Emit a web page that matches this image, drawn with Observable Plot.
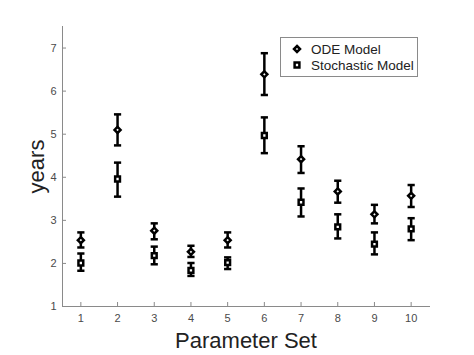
<!DOCTYPE html>
<html>
<head>
<meta charset="utf-8">
<script src="https://cdn.jsdelivr.net/npm/d3@7"></script>
<script src="https://cdn.jsdelivr.net/npm/@observablehq/plot@0.6"></script>
<style>
  html, body { margin: 0; padding: 0; background: #fff; }
  #chart { position: relative; width: 474px; height: 355px; }
</style>
</head>
<body>
<div id="chart"></div>
<script>
const sets = [1, 2, 3, 4, 5, 6, 7, 8, 9, 10];
const odeMean   = [2.54, 5.10, 2.76, 2.27, 2.54, 6.39, 4.42, 3.67, 3.14, 3.57];
const odeLow    = [2.37, 4.74, 2.56, 2.15, 2.37, 5.91, 4.10, 3.41, 2.93, 3.31];
const odeHigh   = [2.72, 5.46, 2.93, 2.41, 2.72, 6.88, 4.72, 3.92, 3.36, 3.82];
const stochMean = [2.01, 3.96, 2.18, 1.84, 2.02, 4.97, 3.42, 2.85, 2.45, 2.80];
const stochLow  = [1.83, 3.55, 1.98, 1.71, 1.87, 4.56, 3.09, 2.58, 2.21, 2.54];
const stochHigh = [2.23, 4.34, 2.39, 2.01, 2.14, 5.39, 3.74, 3.14, 2.72, 3.05];
const yTicks = [1, 2, 3, 4, 5, 6, 7];
const seriesNames = ["ODE Model", "Stochastic Model"];
const xLabel = "Parameter Set";
const yLabel = "years";

const rows = [];
sets.forEach((s, i) => {
  rows.push({set: s, series: seriesNames[0], mean: odeMean[i], low: odeLow[i], high: odeHigh[i]});
  rows.push({set: s, series: seriesNames[1], mean: stochMean[i], low: stochLow[i], high: stochHigh[i]});
});

const cap = {draw(ctx, size) { const w = Math.sqrt(size / Math.PI); ctx.moveTo(-w, 0); ctx.lineTo(w, 0); }};
const symbolOf = {[seriesNames[0]]: "diamond2", [seriesNames[1]]: "square"};

const font = "'Liberation Sans', Arial, Helvetica, sans-serif";

const plot = Plot.plot({
  width: 474,
  height: 355,
  marginLeft: 62,
  marginRight: 45,
  marginTop: 26,
  marginBottom: 49,
  style: {fontFamily: font, background: "white", overflow: "visible"},
  x: {domain: [0.5, 10.5]},
  y: {domain: [1, 7.5]},
  marks: [
    Plot.frame({anchor: "left", stroke: "#8a8a8a"}),
    Plot.frame({anchor: "bottom", stroke: "#8a8a8a"}),
    Plot.axisX({ticks: sets, tickFormat: d => String(d), tickSize: -4, tickPadding: 12, fontSize: 11, color: "#4a4a4a", stroke: "#8a8a8a", label: null}),
    Plot.axisY({ticks: yTicks, tickFormat: d => String(d), tickSize: -4, tickPadding: 10, fontSize: 11, color: "#4a4a4a", stroke: "#8a8a8a", label: null}),
    Plot.ruleX(rows, {x: "set", y1: "low", y2: "high", stroke: "black", strokeWidth: 2.5}),
    Plot.dot(rows, {x: "set", y: "low", symbol: cap, r: 3.6, stroke: "black", strokeWidth: 2.5}),
    Plot.dot(rows, {x: "set", y: "high", symbol: cap, r: 3.6, stroke: "black", strokeWidth: 2.5}),
    Plot.dot(rows, {x: "set", y: "mean", symbol: d => symbolOf[d.series], r: 2.7, fill: "white", stroke: "black", strokeWidth: 2.5}),
    Plot.text([xLabel], {frameAnchor: "bottom", dy: 34, fontSize: 22, fill: "#222", lineAnchor: "middle", textAnchor: "middle"}),
    Plot.text([yLabel], {frameAnchor: "left", dx: -26, rotate: -90, fontSize: 22, fill: "#222", lineAnchor: "middle", textAnchor: "middle"})
  ]
});

document.getElementById("chart").appendChild(plot);

// legend box inside the axes (upper right)
const svg = d3.select(plot);
const lg = svg.append("g").attr("font-family", font).attr("text-anchor", "start");
lg.append("rect").attr("x", 280.5).attr("y", 37.5).attr("width", 137).attr("height", 39)
  .attr("fill", "white").attr("stroke", "#8a8a8a").attr("stroke-width", 1);
const legendSymbols = [d3.symbolDiamond2, d3.symbolSquare];
seriesNames.forEach((name, i) => {
  const cy = 49 + i * 16;
  lg.append("path").attr("transform", `translate(297,${cy})`)
    .attr("d", d3.symbol(legendSymbols[i], 2.7 * 2.7 * Math.PI)())
    .attr("fill", "white").attr("stroke", "black").attr("stroke-width", 2.5);
  lg.append("text").attr("x", 311).attr("y", cy).attr("dy", "0.35em")
    .attr("text-anchor", "start").attr("font-size", 13.5).attr("fill", "#222").text(name);
});
</script>
</body>
</html>
